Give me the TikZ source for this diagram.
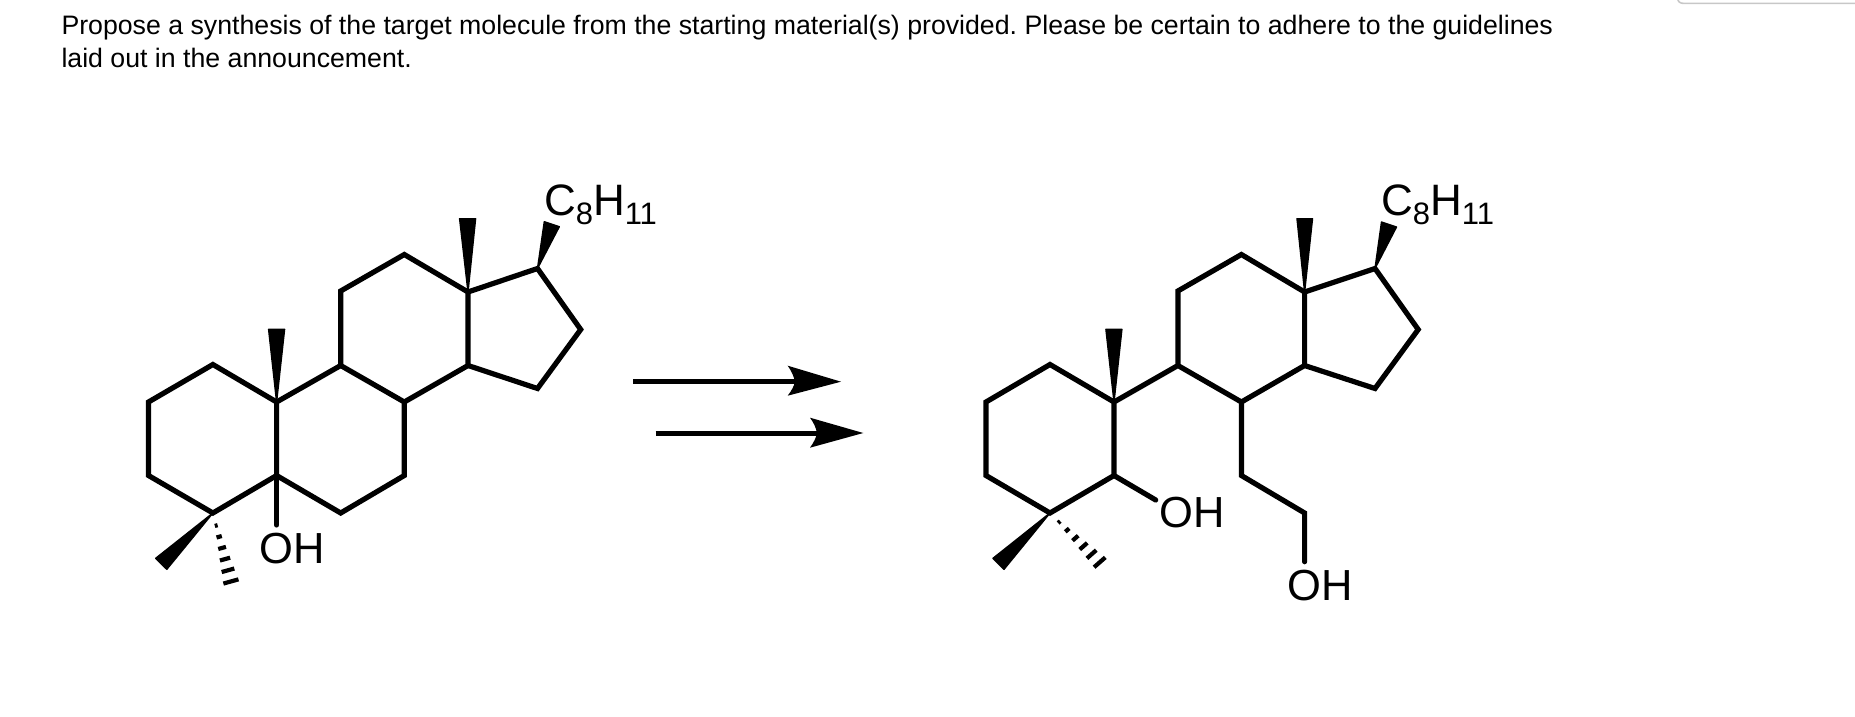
\documentclass[tikz,border=0pt]{standalone}
\usepackage{fontspec}
\setmainfont{Liberation Sans}
\usetikzlibrary{calc}
\newcommand{\chemlabel}{\fontsize{43.5}{43.5}\selectfont}
\newcommand{\sidechain}{\fontsize{44}{44}\selectfont C\raisebox{-9.5pt}{\fontsize{31}{31}\selectfont 8}H\raisebox{-9.5pt}{\fontsize{31}{31}\selectfont 11}}
\tikzset{
  x=1pt,y=-1pt,
  bond/.style={draw=black,line width=5.2pt,line join=miter,line cap=round},
  wedgebond/.style={fill=black,draw=black,line width=1.4pt,line join=round},
  hashbond/.style={draw=black,line width=4.2pt},
  arrowline/.style={draw=black,line width=5pt},
  arrowtip/.style={fill=black,draw=none},
  chem/.style={inner sep=0pt,outer sep=0pt,text=black},
  question/.style={inner sep=0pt,outer sep=0pt,anchor=base west,text=black,font=\fontsize{26.7}{32}\selectfont},
}
\begin{document}
\frenchspacing
\begin{tikzpicture}
\useasboundingbox (0,0) rectangle (1855,717);
% Panel corner at the top right
\draw[draw=black!22,line width=1.6pt] (1677.5,-2) .. controls (1678,2) and (1680,3.4) .. (1684,3.4) -- (1857,3.4);
% Question text
\node[question] (q1) at (61.5,35) {Propose a synthesis of the target molecule from the starting material(s) provided. Please be certain to adhere to the guidelines};
\node[question] (q2) at (61.5,67) {laid out in the announcement.};

% Left molecule atoms
\coordinate (a1) at (212.9,364.5);
\coordinate (a2) at (148.5,402);
\coordinate (a3) at (148.5,475.5);
\coordinate (a4) at (212.9,513);
\coordinate (a5) at (276.6,475.5);
\coordinate (a10) at (276.6,402);
\coordinate (a6) at (340.7,513);
\coordinate (a7) at (404.3,475.5);
\coordinate (a8) at (404.3,402);
\coordinate (a9) at (340.7,365.5);
\coordinate (a11) at (340.7,291);
\coordinate (a12) at (404.3,254.5);
\coordinate (a13) at (468,292);
\coordinate (a14) at (468,365.5);
\coordinate (a15) at (537.5,388.5);
\coordinate (a16) at (580.7,329.5);
\coordinate (a17) at (537.5,268.5);
\coordinate (aoh) at (276.6,525);
\node[chem,anchor=center,font=\chemlabel] (aOH) at (292,549) {OH};
\node[chem,anchor=base west] (aR) at (544,215) {\sidechain};

\path[bond] (a10) -- (a1) -- (a2) -- (a3) -- (a4) -- (a5) -- (a10) -- (a9) -- (a8) -- (a7) -- (a6) -- (a5);
\path[bond] (a9) -- (a11) -- (a12) -- (a13) -- (a14) -- (a8);
\path[bond] (a13) -- (a17) -- (a16) -- (a15) -- (a14);
\path[bond] (a5) -- (aoh);
% wedges
\fill[wedgebond] (a10) -- (268.6,329.3) -- (284.6,329.3) -- cycle;
\fill[wedgebond] (a13) -- (459.6,218.7) -- (475.6,218.7) -- cycle;
\fill[wedgebond] (a17) -- (544.3,221.7) -- (559.3,226.7) -- cycle;
\fill[wedgebond] (a4) -- (155.7,558.3) -- (166.8,569.3) -- cycle;
\coordinate (ah1) at (223.6,585);
\coordinate (ah2) at (239,580.7);
\foreach \t in {0.18,0.34,0.50,0.66,0.82,0.98}
  \draw[hashbond] ($(a4)!\t!(ah1)$) -- ($(a4)!\t!(ah2)$);

% Arrows
\coordinate (r1s) at (633.3,381.7);
\coordinate (r1e) at (797,381.7);
\draw[arrowline] (r1s) -- (r1e);
\fill[arrowtip] (841,381.7) -- (787.7,365.7) .. controls (792,372) and (794,377) .. (795,381.7) .. controls (794,386) and (792,390) .. (787.7,395.7) -- cycle;
\coordinate (r2s) at (655.7,433);
\coordinate (r2e) at (819,433);
\draw[arrowline] (r2s) -- (r2e);
\fill[arrowtip] (863.3,433) -- (810,417.7) .. controls (814,423) and (816,428) .. (817,433) .. controls (816,438) and (814,442) .. (810,447.7) -- cycle;

% Right molecule atoms
\coordinate (b1) at (1050,364.5);
\coordinate (b2) at (986,402);
\coordinate (b3) at (986,475.5);
\coordinate (b4) at (1050,513);
\coordinate (b5) at (1114,475.5);
\coordinate (b10) at (1114,402);
\coordinate (b9) at (1177.9,365.5);
\coordinate (b11) at (1177.9,291);
\coordinate (b12) at (1241.4,254.5);
\coordinate (b13) at (1304.6,292);
\coordinate (b14) at (1304.6,365.5);
\coordinate (b8) at (1241.4,402);
\coordinate (b15) at (1375,388.5);
\coordinate (b16) at (1418.2,329.5);
\coordinate (b17) at (1375,268.5);
\coordinate (b7) at (1241.4,475.5);
\coordinate (b6) at (1304.6,513);
\coordinate (boh1) at (1304.6,561.7);
\coordinate (boh2) at (1155.7,500);
\node[chem,anchor=center,font=\chemlabel] (bOHa) at (1192.5,512.3) {OH};
\node[chem,anchor=center,font=\chemlabel] (bOHb) at (1320.5,585.7) {OH};
\node[chem,anchor=base west] (bR) at (1381,215) {\sidechain};

\path[bond] (b10) -- (b1) -- (b2) -- (b3) -- (b4) -- (b5) -- (b10) -- (b9) -- (b8) -- (b14) -- (b13) -- (b12) -- (b11) -- (b9);
\path[bond] (b13) -- (b17) -- (b16) -- (b15) -- (b14);
\path[bond] (b8) -- (b7) -- (b6) -- (boh1);
\path[bond] (b5) -- (boh2);
% wedges
\fill[wedgebond] (b10) -- (1105.9,329.3) -- (1121.9,329.3) -- cycle;
\fill[wedgebond] (b13) -- (1297,218.7) -- (1312.5,218.7) -- cycle;
\fill[wedgebond] (b17) -- (1381.5,222) -- (1396.5,227) -- cycle;
\fill[wedgebond] (b4) -- (993,558.3) -- (1004,569.3) -- cycle;
\coordinate (bh1) at (1095,568.3);
\coordinate (bh2) at (1106.4,558.3);
\foreach \t in {0.18,0.34,0.50,0.66,0.82,0.98}
  \draw[hashbond] ($(b4)!\t!(bh1)$) -- ($(b4)!\t!(bh2)$);
\end{tikzpicture}
\end{document}
